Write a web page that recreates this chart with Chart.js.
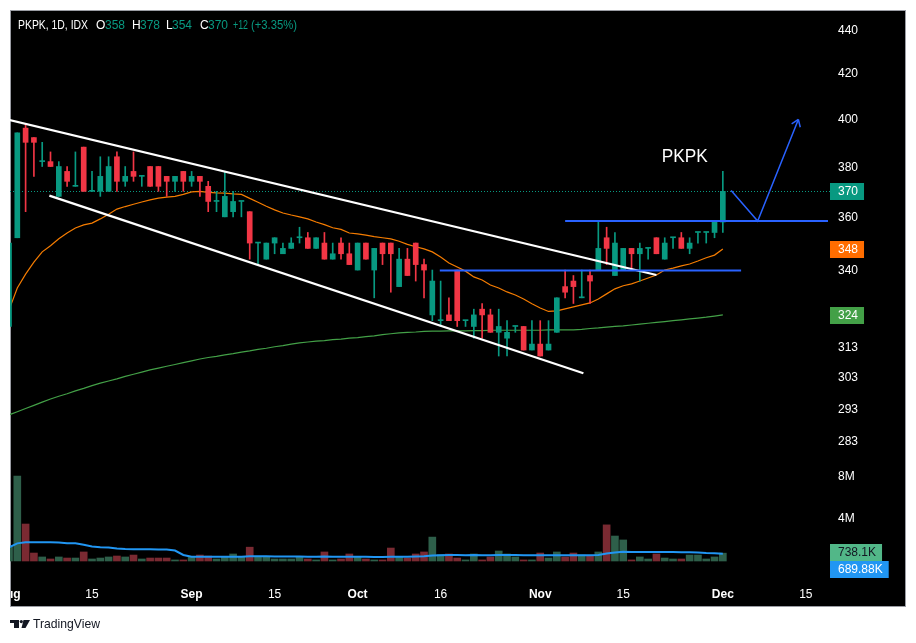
<!DOCTYPE html>
<html><head><meta charset="utf-8">
<script src="https://cdn.jsdelivr.net/npm/chart.js@4.4.0/dist/chart.umd.min.js"></script>
<style>html,body{margin:0;padding:0;background:#fff;overflow:hidden}canvas{display:block}</style>
</head><body>
<canvas id="c" width="916" height="643" style="width:916px;height:643px"></canvas>
<script>
// ---------- data ----------
const symbolTitle = "PKPK, 1D, IDX";
const dates = [
"2023-08-01","2023-08-02","2023-08-03","2023-08-04","2023-08-07","2023-08-08","2023-08-09","2023-08-10","2023-08-11","2023-08-14",
"2023-08-15","2023-08-16","2023-08-18","2023-08-21","2023-08-22","2023-08-23","2023-08-24","2023-08-25","2023-08-28","2023-08-29",
"2023-08-30","2023-08-31","2023-09-01","2023-09-04","2023-09-05","2023-09-06","2023-09-07","2023-09-08","2023-09-11","2023-09-12",
"2023-09-13","2023-09-14","2023-09-15","2023-09-18","2023-09-19","2023-09-20","2023-09-21","2023-09-22","2023-09-25","2023-09-26",
"2023-09-27","2023-09-29","2023-10-02","2023-10-03","2023-10-04","2023-10-05","2023-10-06","2023-10-09","2023-10-10","2023-10-11",
"2023-10-12","2023-10-13","2023-10-16","2023-10-17","2023-10-18","2023-10-19","2023-10-20","2023-10-23","2023-10-24","2023-10-25",
"2023-10-26","2023-10-27","2023-10-30","2023-10-31","2023-11-01","2023-11-02","2023-11-03","2023-11-06","2023-11-07","2023-11-08",
"2023-11-09","2023-11-10","2023-11-13","2023-11-14","2023-11-15","2023-11-16","2023-11-17","2023-11-20","2023-11-21","2023-11-22",
"2023-11-23","2023-11-24","2023-11-27","2023-11-28","2023-11-29","2023-11-30","2023-12-01"];
const opens = [320,352,396,392,382,382,368,378,372,388, 370,370,370,384,374,378,376,380,380,376,
  374,378,374,376,372,366,360,362,366,362, 350,344,350,346,348,352,352,348,350,344,
  350,346,340,350,340,350,350,334,344,350, 342,324,322,324,340,322,320,326,324,318,
  316,320,320,312,314,312,318,334,336,330, 338,340,352,338,340,348,346,348,352,344,
  352,352,348,354,354,354,358];
const highs = [350,394,398,392,390,386,382,380,386,388, 378,384,384,386,380,386,376,380,380,376,
  376,378,378,376,374,370,378,370,366,362, 350,350,352,350,352,356,354,352,354,350,
  352,350,350,350,348,350,350,348,348,350, 344,340,336,330,340,322,326,328,326,326,
  322,320,320,322,322,322,330,340,338,340, 340,358,356,354,348,348,350,348,352,352,
  352,354,352,354,354,358,378];
const lows = [320,352,362,376,380,380,368,372,372,370, 370,368,370,370,372,374,372,372,370,368,
  370,370,372,368,362,362,360,360,360,344, 342,344,346,346,348,350,348,348,344,344,
  344,342,340,344,330,342,332,334,338,336, 330,322,320,322,320,320,316,316,318,310,
  310,318,312,312,310,312,318,330,328,330, 328,340,342,338,340,340,336,344,346,344,
  348,348,346,350,350,352,354];
const closes = [350,394,390,390,382,380,380,374,372,370, 370,376,380,374,376,376,376,372,372,374,
  376,374,376,374,366,366,368,366,366,350, 350,350,352,348,350,352,348,352,344,346,
  346,342,350,344,348,346,346,344,338,342, 340,336,322,322,322,322,324,324,318,320,
  318,320,312,314,310,314,330,332,334,330, 336,348,348,350,348,346,348,348,346,350,
  352,348,350,354,354,358,370];
// volume in millions of shares
const volumes = [1.35,8.0,3.48,0.75,0.38,0.19,0.38,0.28,0.28,0.85, 0.19,0.28,0.38,0.47,0.38,0.56,0.19,0.28,0.28,0.28,
  0.10,0.10,0.38,0.56,0.47,0.19,0.38,0.66,0.38,1.30, 0.38,0.38,0.19,0.19,0.19,0.38,0.19,0.10,0.85,0.10,
  0.19,0.66,0.38,0.19,0.10,0.10,1.22,0.38,0.28,0.66, 0.85,2.25,0.60,0.66,0.28,0.10,0.66,0.10,0.38,0.94,
  0.66,0.38,0.10,0.10,0.75,0.28,0.85,0.38,0.75,0.56, 0.47,0.85,3.40,2.35,1.98,0.10,0.38,0.19,0.66,0.28,
  0.19,0.19,0.56,0.56,0.19,0.38,0.7381];
const volumeMA = [1.29,1.66,1.76,1.76,1.76,1.76,1.74,1.68,1.66,1.52, 1.36,1.30,1.26,1.17,1.12,1.10,1.10,1.10,1.09,1.08,
  0.98,0.57,0.40,0.41,0.41,0.40,0.40,0.41,0.41,0.45, 0.44,0.44,0.43,0.42,0.42,0.42,0.41,0.40,0.42,0.40,
  0.40,0.41,0.41,0.40,0.38,0.37,0.41,0.41,0.40,0.42, 0.44,0.52,0.55,0.56,0.56,0.55,0.56,0.55,0.55,0.56,
  0.57,0.57,0.55,0.54,0.55,0.54,0.55,0.55,0.55,0.54, 0.53,0.56,0.70,0.80,0.86,0.85,0.85,0.85,0.85,0.84,
  0.84,0.83,0.82,0.80,0.76,0.74,0.68988];
const ema20 = [325.7,333.5,338.5,342.9,346.7,349.0,351.6,353.8,355.7,356.9, 357.6,359.2,361.0,363.0,364.0,364.9,365.8,366.6,367.3,367.7,
  368.0,368.8,369.8,370.0,369.6,369.4,369.3,369.0,368.8,367.2, 365.7,364.1,362.7,361.5,360.7,360.0,359.2,358.0,357.0,355.8,
  355.2,353.8,353.5,353.0,352.4,352.0,351.6,350.7,349.5,348.6, 347.8,346.7,344.8,342.6,341.1,339.6,337.5,336.4,334.6,333.5,
  332.1,331.0,329.6,327.9,326.4,325.2,325.4,326.1,326.8,327.5, 328.2,329.6,331.4,333.2,334.3,335.0,336.0,337.1,338.2,340.0,
  340.7,341.5,342.2,343.3,344.5,345.5,347.8];
const sma200 = [291.0,292.0,293.0,294.0,295.0,296.0,296.9,297.7,298.6,299.4, 300.3,301.1,301.8,302.5,303.3,304.0,304.7,305.4,306.0,306.6,
  307.2,307.8,308.4,309.0,309.5,309.9,310.4,310.8,311.3,311.7, 312.2,312.6,313.1,313.5,314.0,314.4,314.7,315.0,315.2,315.5,
  315.7,316.0,316.2,316.5,316.8,317.2,317.5,317.8,318.0,318.1, 318.3,318.4,318.4,318.5,318.5,318.5,318.6,318.6,318.7,318.7,
  318.7,318.7,318.7,318.7,318.7,318.8,318.8,318.8,318.8,319.0, 319.3,319.5,319.8,320.0,320.2,320.5,320.8,321.1,321.4,321.7,
  322.0,322.3,322.6,322.9,323.2,323.6,324.0];
const priceTicks = [440,420,400,380,360,340,313,303,293,283];
const volumeTicks = [8,4];
const volumeTickText = ["8M","4M"];
const timeTickIndex = [0,10,22,32,42,52,64,74,86,96];
const timeTickText = ["Aug","15","Sep","15","Oct","16","Nov","15","Dec","15"];
// drawings (x = bar index, y = price)
const channelTopX = [0, 78.0],    channelTopY = [399.5, 338.2];
const channelBottomX = [4.86, 69.2], channelBottomY = [368.3, 304.3];
const resistanceX = [67.0, 99.5], resistanceY = [358.4, 358.4];
const supportX = [51.9, 88.2],    supportY = [339.8, 339.8];
const arrowX = [87.0, 90.2, 95.1], arrowY = [370.3, 358.4, 399.7];
const noteText = "PKPK", noteX = 81.4, noteY = 383.7;

// ---------- styles ----------
const GREEN = '#089981', RED = '#f23645', BLUE = '#2962ff';
const FONT = '"Liberation Sans", Arial, sans-serif';
const idx = dates.map((_, i) => i);
const up = idx.map(i => closes[i] >= opens[i]);
const pts = (xs, ys) => xs.map((x, k) => ({x: x, y: ys[k]}));

function box(c, text, yc, bg, fg, left) {
  c.font = '12px ' + FONT;
  const w = c.measureText(text).width;
  c.fillStyle = bg;
  c.fillRect(left, Math.round(yc) - 8, w + 14, 17);
  c.fillStyle = fg;
  c.textBaseline = 'middle'; c.textAlign = 'left';
  c.fillText(text, left + 8, Math.round(yc) + 0.5);
}
function fmtK(v) { return parseFloat((v * 1000).toFixed(2)) + 'K'; }

const tvPlugin = {
  id: 'tv',
  beforeDraw(chart) {
    const c = chart.ctx;
    c.save();
    c.fillStyle = '#ffffff'; c.fillRect(0, 0, chart.width, chart.height);
    c.fillStyle = '#000000'; c.fillRect(10, 10, 896, 597);
    c.strokeStyle = '#9a9ca3'; c.lineWidth = 1; c.strokeRect(10.5, 10.5, 895, 596);
    c.restore();
  },
  beforeDatasetsDraw(chart) {
    const c = chart.ctx, a = chart.chartArea, y = chart.scales.y;
    const py = Math.round(y.getPixelForValue(closes[closes.length - 1])) + 0.5;
    c.save();
    c.strokeStyle = GREEN; c.lineWidth = 1; c.setLineDash([1, 2]);
    c.beginPath(); c.moveTo(a.left, py); c.lineTo(a.right + 2, py); c.stroke();
    c.restore();
  },
  afterDatasetsDraw(chart) {
    const c = chart.ctx, a = chart.chartArea;
    const xs = chart.scales.x, ys = chart.scales.y, vs = chart.scales.v;
    c.save();
    // arrow head
    const n = arrowX.length;
    const tx = xs.getPixelForValue(arrowX[n - 1]), ty = ys.getPixelForValue(arrowY[n - 1]);
    const fx = xs.getPixelForValue(arrowX[n - 2]), fy = ys.getPixelForValue(arrowY[n - 2]);
    const ang = Math.atan2(ty - fy, tx - fx);
    c.strokeStyle = BLUE; c.lineWidth = 1.5;
    c.beginPath();
    for (const s of [-1, 1]) {
      const b = ang + Math.PI + s * 0.62;
      c.moveTo(tx, ty); c.lineTo(tx + 8 * Math.cos(b), ty + 8 * Math.sin(b));
    }
    c.stroke();
    // note text
    c.fillStyle = '#ffffff'; c.font = '18px ' + FONT;
    c.textAlign = 'center'; c.textBaseline = 'middle';
    c.fillText(noteText, xs.getPixelForValue(noteX), ys.getPixelForValue(noteY), 46);
    // price axis ticks
    const lx = a.right + 10;
    c.font = '12px ' + FONT; c.textAlign = 'left'; c.fillStyle = '#ffffff';
    priceTicks.forEach(p => c.fillText(String(p), lx, Math.round(ys.getPixelForValue(p)) + 0.5));
    volumeTicks.forEach((v, k) => c.fillText(volumeTickText[k], lx, Math.round(vs.getPixelForValue(v)) + 0.5));
    // value boxes
    const L = closes.length - 1;
    box(c, String(closes[L]), ys.getPixelForValue(closes[L]), GREEN, '#ffffff', a.right + 2);
    box(c, String(Math.round(ema20[L])), ys.getPixelForValue(ema20[L]), '#ff6d00', '#ffffff', a.right + 2);
    box(c, String(Math.round(sma200[L])), ys.getPixelForValue(sma200[L]), '#43a047', '#ffffff', a.right + 2);
    const vy = vs.getPixelForValue(volumes[L]) - 1;
    box(c, fmtK(volumes[L]), vy, '#52b788', '#131722', a.right + 2);
    box(c, fmtK(volumeMA[L]), vy + 17, '#2196f3', '#ffffff', a.right + 2);
    // time axis
    c.save();
    c.beginPath(); c.rect(11, a.bottom, 894, 26); c.clip();
    c.textAlign = 'center'; c.textBaseline = 'middle';
    timeTickIndex.forEach((ti, k) => {
      const t = timeTickText[k];
      c.font = (/^\d+$/.test(t) ? '' : 'bold ') + '12px ' + FONT;
      c.fillText(t, xs.getPixelForValue(ti), 594.5);
    });
    c.restore();
    // legend
    c.textAlign = 'left'; c.textBaseline = 'middle'; c.font = '12px ' + FONT;
    const chg = closes[L] - closes[L - 1];
    const pct = (chg / closes[L - 1] * 100).toFixed(2);
    const parts = [[symbolTitle, '#ffffff', 18, 70], ['O', '#ffffff', 96], [String(opens[L]), GREEN, 105],
      ['H', '#ffffff', 132], [String(highs[L]), GREEN, 140], ['L', '#ffffff', 166], [String(lows[L]), GREEN, 172],
      ['C', '#ffffff', 200], [String(closes[L]), GREEN, 208], ['+' + chg, GREEN, 233, 15], ['(+' + pct + '%)', GREEN, 251, 46]];
    parts.forEach(p => { c.fillStyle = p[1]; if (p[3]) c.fillText(p[0], p[2], 25.5, p[3]); else c.fillText(p[0], p[2], 25.5); });
    // TradingView logo
    c.fillStyle = '#131722';
    c.fillRect(10, 620, 9, 3); c.fillRect(14, 620, 5, 8);
    c.beginPath(); c.arc(21.3, 621.6, 1.6, 0, Math.PI * 2); c.fill();
    c.beginPath(); c.moveTo(23.5, 620); c.lineTo(30, 620); c.lineTo(25.5, 628); c.lineTo(21.5, 628); c.closePath(); c.fill();
    c.font = '13px ' + FONT; c.textBaseline = 'middle';
    c.fillText('TradingView', 33, 624.5, 67);
    c.restore();
  }
};

new Chart(document.getElementById('c'), {
  type: 'bar',
  data: {
    datasets: [
      { type: 'line', label: 'arrow', data: pts(arrowX, arrowY), borderColor: BLUE, borderWidth: 1.5,
        pointRadius: 0, tension: 0, order: 1, clip: 0 },
      { type: 'line', label: 'resistance', data: pts(resistanceX, resistanceY), borderColor: BLUE, borderWidth: 2,
        pointRadius: 0, order: 2, clip: 0 },
      { type: 'line', label: 'support', data: pts(supportX, supportY), borderColor: BLUE, borderWidth: 2,
        pointRadius: 0, order: 2, clip: 0 },
      { type: 'line', label: 'channel top', data: pts(channelTopX, channelTopY), borderColor: '#ffffff', borderWidth: 2.2,
        pointRadius: 0, order: 3, clip: 0 },
      { type: 'line', label: 'channel bottom', data: pts(channelBottomX, channelBottomY), borderColor: '#ffffff', borderWidth: 2.2,
        pointRadius: 0, order: 3, clip: 0 },
      { type: 'bar', label: 'body', data: idx.map(i => ({x: i, y: [opens[i], closes[i]]})),
        backgroundColor: up.map(u => u ? GREEN : RED), barThickness: 5, minBarLength: 1, grouped: false, order: 5, clip: 0 },
      { type: 'bar', label: 'wick', data: idx.map(i => ({x: i, y: [lows[i], highs[i]]})),
        backgroundColor: up.map(u => u ? GREEN : RED), barThickness: 1, minBarLength: 1, grouped: false, order: 6, clip: 0 },
      { type: 'line', label: 'EMA', data: idx.map(i => ({x: i, y: ema20[i]})), borderColor: '#f57c00', borderWidth: 1.2,
        pointRadius: 0, tension: 0, order: 7, clip: 0 },
      { type: 'line', label: 'SMA', data: idx.map(i => ({x: i, y: sma200[i]})), borderColor: '#43a047', borderWidth: 1.2,
        pointRadius: 0, tension: 0, order: 8, clip: 0 },
      { type: 'line', label: 'Vol MA', yAxisID: 'v', data: idx.map(i => ({x: i, y: volumeMA[i]})), borderColor: '#2196f3',
        borderWidth: 2, pointRadius: 0, tension: 0, order: 9, clip: 0 },
      { type: 'bar', label: 'Volume', yAxisID: 'v', data: idx.map(i => ({x: i, y: volumes[i]})),
        backgroundColor: up.map(u => u ? '#2e5f4a' : '#7a2a32'), barThickness: 7, grouped: false, order: 10, clip: 0 }
    ]
  },
  options: {
    responsive: false, animation: false, devicePixelRatio: 1,
    layout: { padding: { left: 10, right: 88, top: 11, bottom: 63 } },
    plugins: { legend: { display: false }, tooltip: { enabled: false } },
    scales: {
      x: { type: 'linear', display: false, min: 0.12, max: 98.67, offset: false, bounds: 'data', grid: { offset: false } },
      y: { type: 'logarithmic', display: false, min: 243.7, max: 449.1, bounds: 'data', beginAtZero: false },
      v: { type: 'linear', display: false, min: -1.788, max: 51.76, bounds: 'data', beginAtZero: false }
    }
  },
  plugins: [tvPlugin]
});
</script>
</body></html>
